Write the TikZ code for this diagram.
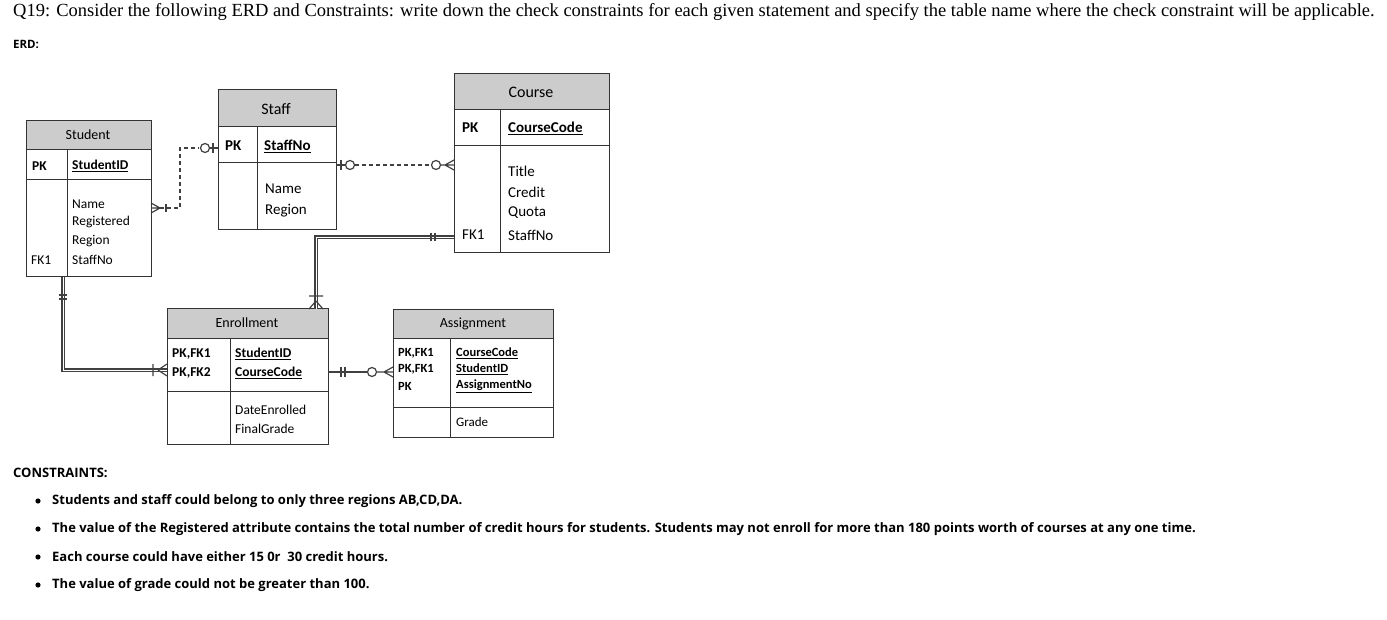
\documentclass[tikz,border=0pt]{standalone}
\usepackage{fontspec}
\setmainfont{Liberation Serif}
\newfontfamily\erfont{Carlito}
\newfontfamily\opfont{Open Sans}
\begin{document}
\begin{tikzpicture}[x=1pt,y=-1pt,
  hdr/.style={fill=gray!40,draw=black!80,line width=1pt},
  cell/.style={draw=black!80,line width=1pt},
  lt/.style={anchor=west,inner sep=0pt,font=\erfont\fontsize{13.5}{13}\selectfont},
  ct/.style={inner sep=0pt,font=\erfont\fontsize{14}{14}\selectfont},
  conn/.style={draw=black!75,line width=1.2pt},
  dconn/.style={conn,dashed,dash pattern=on 4pt off 3pt},
  ctext/.style={anchor=west,inner sep=0pt,font=\opfont\bfseries\fontsize{13}{13}\selectfont}]
\useasboundingbox (0,0) rectangle (1387,620);
\newcommand\erbox[8]{%
  \draw[hdr] (#2,#3) rectangle (#4,#5);
  \draw[cell] (#2,#5) rectangle (#4,#7);
  \draw[cell] (#2,#5) -- (#2,#6) -- (#4,#6);
  \draw[cell] (#8,#5) -- (#8,#7);
  \coordinate (#1-nw) at (#2,#3);}
% title
\node[anchor=west,inner sep=0pt,font=\fontsize{18.5}{19}\selectfont] (title) at (13,12) {Q19: Consider the following ERD and Constraints: write down the check constraints for each given statement and specify the table name where the check constraint will be applicable.};
\node[anchor=west,inner sep=0pt,font=\opfont\bfseries\fontsize{11.5}{12}\selectfont] (erd) at (13,44) {ERD:};
% boxes
\erbox{stu}{26}{121}{151}{150}{180}{277}{67}
\erbox{sta}{218}{90}{336}{127}{163}{230}{257}
\erbox{cou}{454}{74}{609}{110}{146}{253}{500}
\erbox{enr}{167}{309}{328}{339}{391}{444}{230}
\erbox{asg}{393}{310}{553}{339}{407}{437}{450}
% student
\node[ct] (stuh) at (88,135) {Student};
\node[lt] (stupk) at (32,166) {\textbf{PK}};
\node[lt] (stuid) at (72,166) {\textbf{\underline{StudentID}}};
\node[lt] (stua) at (72,204) {Name};
\node[lt] (stub) at (72,222) {Registered};
\node[lt] (stuc) at (72,241) {Region};
\node[lt] (stud) at (72,260) {StaffNo};
\node[lt] (stufk) at (31,260) {FK1};
% staff
\node[ct,font=\erfont\fontsize{16}{16}\selectfont] (stah) at (276,109) {Staff};
\node[lt,font=\erfont\bfseries\fontsize{15}{15}\selectfont] (stapk) at (225,146) {PK};
\node[lt,font=\erfont\bfseries\fontsize{15}{15}\selectfont] (stano) at (264,146) {\underline{StaffNo}};
\node[lt,font=\erfont\fontsize{15}{15}\selectfont] (staa) at (265,189) {Name};
\node[lt,font=\erfont\fontsize{15}{15}\selectfont] (stab) at (265,211) {Region};
% course
\node[ct,font=\erfont\fontsize{16}{16}\selectfont] (couh) at (531,92) {Course};
\node[lt,font=\erfont\bfseries\fontsize{15}{15}\selectfont] (coupk) at (462,128) {PK};
\node[lt,font=\erfont\bfseries\fontsize{15}{15}\selectfont] (coucc) at (508,128) {\underline{CourseCode}};
\node[lt,font=\erfont\fontsize{15}{15}\selectfont] (coua) at (508,171) {Title};
\node[lt,font=\erfont\fontsize{15}{15}\selectfont] (coub) at (508,192) {Credit};
\node[lt,font=\erfont\fontsize{15}{15}\selectfont] (couc) at (508,213) {Quota};
\node[lt,font=\erfont\fontsize{15}{15}\selectfont] (coud) at (508,235) {StaffNo};
\node[lt,font=\erfont\fontsize{15}{15}\selectfont] (coufk) at (462,235) {FK1};
% enrollment
\node[ct] (enrh) at (247,323) {Enrollment};
\node[lt] (enrk1) at (172,354) {\textbf{PK,FK1}};
\node[lt] (enrk2) at (172,373) {\textbf{PK,FK2}};
\node[lt] (enrs) at (235,354) {\textbf{\underline{StudentID}}};
\node[lt] (enrc) at (235,373) {\textbf{\underline{CourseCode}}};
\node[lt] (enra) at (235,410) {DateEnrolled};
\node[lt] (enrb) at (235,429) {FinalGrade};
% assignment
\node[ct] (asgh) at (473,324) {Assignment};
\node[lt,font=\erfont\bfseries\fontsize{12.5}{12}\selectfont] (asgk1) at (398,353) {PK,FK1};
\node[lt,font=\erfont\bfseries\fontsize{12.5}{12}\selectfont] (asgk2) at (398,369) {PK,FK1};
\node[lt,font=\erfont\bfseries\fontsize{12.5}{12}\selectfont] (asgk3) at (398,386) {PK};
\node[lt,font=\erfont\bfseries\fontsize{12.5}{12}\selectfont] (asgc) at (456,353) {\underline{CourseCode}};
\node[lt,font=\erfont\bfseries\fontsize{12.5}{12}\selectfont] (asgs) at (456,369) {\underline{StudentID}};
\node[lt,font=\erfont\bfseries\fontsize{12.5}{12}\selectfont] (asgn) at (456,386) {\underline{AssignmentNo}};
\node[lt,font=\erfont\fontsize{13}{12}\selectfont] (asgg) at (456,422) {Grade};
% connector endpoints
\coordinate (c1a) at (151,208); \coordinate (c1b) at (218,148);
\coordinate (c2a) at (336,165); \coordinate (c2b) at (454,165);
\coordinate (c3a) at (454,237); \coordinate (c3b) at (316,309);
\coordinate (c4a) at (63,277); \coordinate (c4b) at (167,370);
\coordinate (c5a) at (328,372); \coordinate (c5b) at (393,372);
% student - staff (dashed)
\draw[dconn] (c1a) ++(9,0) -- (180,208) -- (180,148) -- (199,148);
\draw[conn] (160,208) -- (c1a) (160,208) -- (151,203) (160,208) -- (151,213);
\draw[conn] (166,204) -- (166,212);
\draw[conn,fill=white] (205,148) circle (4.5);
\draw[conn] (213,143) -- (213,153) (209.5,148) -- (c1b);
% staff - course (dashed)
\draw[dconn] (355,165) -- (431,165);
\draw[conn] (c2a) -- (345.5,165) (341,160) -- (341,170);
\draw[conn,fill=white] (350,165) circle (4.5);
\draw[conn,fill=white] (436,165) circle (4.5);
\draw[conn] (440.5,165) -- (c2b) (445,165) -- (454,160) (445,165) -- (454,170);
% course - enrollment
\draw[conn,double=white,double distance=0.8pt] (c3a) -- (316,237) -- (c3b);
\draw[conn] (431,233) -- (431,241) (435,233) -- (435,241);
\draw[conn] (309,296) -- (323,296) (316,301) -- (309,309) (316,301) -- (323,309);
% student - enrollment
\draw[conn,double=white,double distance=0.8pt] (c4a) -- (63,370) -- (c4b);
\draw[conn] (59,295) -- (67,295) (59,299) -- (67,299);
\draw[conn] (153,364) -- (153,376) (158,370) -- (167,364) (158,370) -- (167,376);
% enrollment - assignment
\draw[conn] (c5a) -- (367.5,372);
\draw[conn] (341,367) -- (341,377) (345,367) -- (345,377);
\draw[conn,fill=white] (372,372) circle (4.5);
\draw[conn] (376.5,372) -- (c5b) (384,372) -- (393,367) (384,372) -- (393,377);
% constraints
\node[ctext] (cons) at (13,473) {CONSTRAINTS:};
\node[ctext] (b1) at (52,501) {Students and staff could belong to only three regions AB,CD,DA.};
\node[ctext] (b2) at (52,529) {The value of the Registered attribute contains the total number of credit hours for students. Students may not enroll for more than 180 points worth of courses at any one time.};
\node[ctext] (b3) at (52,557) {Each course could have either 15 0r\ \ 30 credit hours.};
\node[ctext] (b4) at (52,585) {The value of grade could not be greater than 100.};
\foreach \yy in {501,529,557,585} \fill (38,\yy) circle (2.6);
\end{tikzpicture}
\end{document}
